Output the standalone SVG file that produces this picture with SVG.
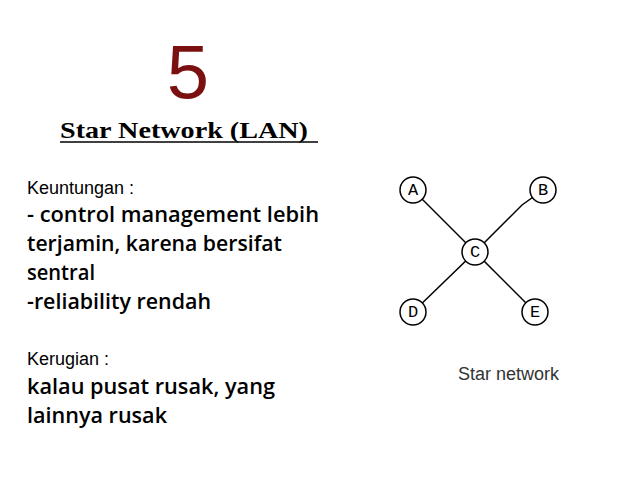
<svg xmlns="http://www.w3.org/2000/svg" width="638" height="478" viewBox="0 0 638 478">
<style>
.b{font-family:"Open Sans","Liberation Sans",sans-serif;font-weight:600;font-size:21px;fill:#000}
.r{font-family:"Liberation Sans",sans-serif;font-size:18px;fill:#000}
.n circle{fill:#fff;stroke:#000;stroke-width:1.5}
.n text{font-family:"Liberation Mono",monospace;font-size:17px;text-anchor:middle}
</style>
<rect width="638" height="478" fill="#fff"/>
<text x="188" y="98" font-family="Liberation Sans,sans-serif" font-size="76" fill="#7a1010" text-anchor="middle">5</text>
<text x="60" y="138" font-family="Liberation Serif,serif" font-weight="bold" font-size="23" textLength="248" lengthAdjust="spacingAndGlyphs">Star Network (LAN)</text>
<line x1="60" y1="142" x2="318" y2="142" stroke="#000" stroke-width="1.5"/>
<text class="r" x="27" y="194">Keuntungan :</text>
<text class="b" x="27" y="222" textLength="292" lengthAdjust="spacingAndGlyphs">- control management lebih</text>
<text class="b" x="27" y="251" textLength="255" lengthAdjust="spacingAndGlyphs">terjamin, karena bersifat</text>
<text class="b" x="27" y="280" textLength="68" lengthAdjust="spacingAndGlyphs">sentral</text>
<text class="b" x="27" y="309" textLength="184" lengthAdjust="spacingAndGlyphs">-reliability rendah</text>
<text class="r" x="27" y="365">Kerugian :</text>
<text class="b" x="27" y="394" textLength="248" lengthAdjust="spacingAndGlyphs">kalau pusat rusak, yang</text>
<text class="b" x="27" y="423" textLength="140" lengthAdjust="spacingAndGlyphs">lainnya rusak</text>
<g id="connectors" stroke="#000" stroke-width="1.5" fill="none">
<line x1="413" y1="190" x2="475" y2="252"/>
<polyline points="543,190 522,205 475,252"/>
<line x1="413" y1="312" x2="475" y2="252"/>
<line x1="535" y1="312" x2="475" y2="252"/>
</g>
<g id="A" class="n"><circle cx="413" cy="190" r="13"/><text x="413" y="195">A</text></g>
<g id="B" class="n"><circle cx="543" cy="190" r="13"/><text x="543" y="195">B</text></g>
<g id="C" class="n"><circle cx="475" cy="252" r="13"/><text x="475" y="257">C</text></g>
<g id="D" class="n"><circle cx="413" cy="312" r="13"/><text x="413" y="317">D</text></g>
<g id="E" class="n"><circle cx="535" cy="312" r="13"/><text x="535" y="317">E</text></g>
<text x="458" y="380" font-family="Liberation Sans,sans-serif" font-size="18" fill="#333">Star network</text>
</svg>
